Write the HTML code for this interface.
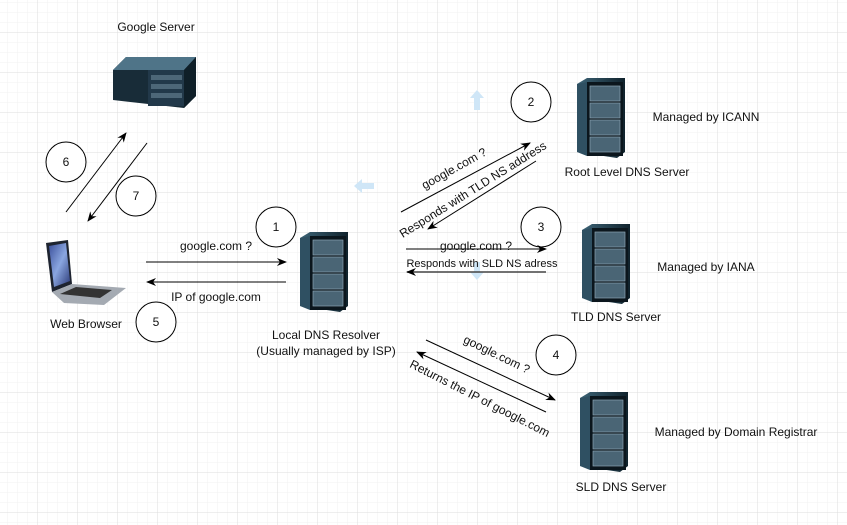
<!DOCTYPE html>
<html><head><meta charset="utf-8"><style>
html,body{margin:0;padding:0;background:#fff}
svg{display:block}
text{font-family:"Liberation Sans",Arial,sans-serif;font-size:12px;fill:#111}
</style></head><body>
<svg width="847" height="525" viewBox="0 0 847 525" xmlns="http://www.w3.org/2000/svg">
<defs>
<pattern id="minor" width="10" height="10" patternUnits="userSpaceOnUse" x="-3" y="2">
<path d="M0 0H10M0 0V10" stroke="#f2f2f2" stroke-width="1" fill="none"/>
</pattern>
<pattern id="major" width="40" height="40" patternUnits="userSpaceOnUse" x="-3" y="-8">
<path d="M0 0H40M0 0V40" stroke="#dedede" stroke-width="1" fill="none"/>
</pattern>
<marker id="ah" markerWidth="10" markerHeight="10" refX="9" refY="5" orient="auto" markerUnits="userSpaceOnUse">
<path d="M0 1L10 5L0 9L3 5Z" fill="#000"/>
</marker>
<linearGradient id="side" x1="0" x2="1"><stop offset="0" stop-color="#3d6477"/><stop offset="1" stop-color="#10222c"/></linearGradient>
<linearGradient id="scr" x1="0" x2="1" y1="0" y2="1"><stop offset="0" stop-color="#3a4f9a"/><stop offset="0.5" stop-color="#8aa6e0"/><stop offset="1" stop-color="#2b3a78"/></linearGradient>
<g id="rack">
<polygon points="0,6 10,0 48,0 48,74 40,80 0,74" fill="url(#side)"/>
<rect x="10" y="4" width="36" height="74" fill="#0b161d"/>
<g fill="#4a6575" stroke="#8aa3b2" stroke-width="0.7">
<rect x="13" y="8" width="30" height="15"/><rect x="13" y="25" width="30" height="15"/>
<rect x="13" y="42" width="30" height="15"/><rect x="13" y="59" width="30" height="15"/>
</g>
<polygon points="0,6 10,4 10,78 0,74" fill="#2f5062"/>
</g>
</defs>
<rect width="847" height="525" fill="url(#minor)"/>
<rect width="847" height="525" fill="url(#major)"/>

<g fill="#cfe6f7"><path d="M474 110V98h-4l7-8 7 8h-4v12z"/><path d="M374 183h-12v-4l-8 7 8 7v-4h12z"/><path d="M474 262v10h-4l7 8 7-8h-4v-10z"/></g>

<text x="156" y="31" text-anchor="middle">Google Server</text>
<g>
<polygon points="113,70 126,57 196,57 196,96 184,108 113,100" fill="#182c38"/>
<polygon points="113,70 126,57 196,57 184,70" fill="#4f7488"/>
<rect x="148" y="70" width="36" height="36" fill="#22394a"/>
<g fill="#4d6778"><rect x="151" y="75" width="31" height="5"/><rect x="151" y="84" width="31" height="5"/><rect x="151" y="93" width="31" height="5"/></g>
<polygon points="184,70 196,57 196,96 184,108" fill="#0f1f28"/>
</g>

<g>
<polygon points="46,243 68,240 72,284 52,292" fill="#1e2430"/>
<polygon points="49,246 66,243 70,281 54,287" fill="url(#scr)"/>
<polygon points="52,292 72,284 126,288 104,305 64,303" fill="#a4aab2"/>
<polygon points="60,294 76,287 112,290 100,298" fill="#333"/>
</g>
<text x="86" y="328" text-anchor="middle">Web Browser</text>

<line x1="66" y1="212" x2="126" y2="133" stroke="#000" marker-end="url(#ah)"/>
<line x1="147" y1="143" x2="88" y2="221" stroke="#000" marker-end="url(#ah)"/>

<g fill="#fff" stroke="#000" stroke-width="1">
<circle cx="66" cy="162" r="20"/><circle cx="136" cy="196" r="20"/><circle cx="156" cy="322" r="20"/>
<circle cx="276" cy="227" r="20"/><circle cx="531" cy="102" r="20"/><circle cx="541" cy="227" r="20"/><circle cx="556" cy="355" r="20"/>
</g>
<g text-anchor="middle">
<text x="66" y="166">6</text><text x="136" y="200">7</text><text x="156" y="326">5</text>
<text x="276" y="231">1</text><text x="531" y="106">2</text><text x="541" y="231">3</text><text x="556" y="359">4</text>
</g>

<line x1="146" y1="262" x2="286" y2="262" stroke="#000" marker-end="url(#ah)"/>
<text x="216" y="250" text-anchor="middle">google.com ?</text>
<line x1="286" y1="282" x2="147" y2="282" stroke="#000" marker-end="url(#ah)"/>
<text x="216" y="301" text-anchor="middle">IP of google.com</text>

<use href="#rack" x="300" y="232"/>
<text x="326" y="339" text-anchor="middle">Local DNS Resolver</text>
<text x="326" y="355" text-anchor="middle">(Usually managed by ISP)</text>

<use href="#rack" x="577" y="78"/>
<text x="627" y="176" text-anchor="middle">Root Level DNS Server</text>
<text x="706" y="121" text-anchor="middle">Managed by ICANN</text>
<line x1="401" y1="212" x2="530" y2="143" stroke="#000" marker-end="url(#ah)"/>
<text x="456" y="172" text-anchor="middle" transform="rotate(-29 456 172)">google.com ?</text>
<line x1="536" y1="161" x2="428" y2="229" stroke="#000" marker-end="url(#ah)"/>
<text x="475" y="193" text-anchor="middle" transform="rotate(-32 475 193)">Responds with TLD NS address</text>

<line x1="406" y1="249" x2="546" y2="249" stroke="#000" marker-end="url(#ah)"/>
<text x="476" y="250" text-anchor="middle">google.com ?</text>
<text x="482" y="267" text-anchor="middle" style="font-size:11px">Responds with SLD NS adress</text>
<line x1="546" y1="272" x2="407" y2="272" stroke="#444" stroke-width="1.5" marker-end="url(#ah)"/>
<use href="#rack" x="582" y="224"/>
<text x="616" y="321" text-anchor="middle">TLD DNS Server</text>
<text x="706" y="271" text-anchor="middle">Managed by IANA</text>

<line x1="426" y1="340" x2="555" y2="400" stroke="#000" marker-end="url(#ah)"/>
<text x="495" y="358" text-anchor="middle" transform="rotate(26 495 358)">google.com ?</text>
<line x1="546" y1="412" x2="417" y2="352" stroke="#000" marker-end="url(#ah)"/>
<text x="478" y="402" text-anchor="middle" transform="rotate(27 478 402)">Returns the IP of google.com</text>
<use href="#rack" x="580" y="392"/>
<text x="621" y="491" text-anchor="middle">SLD DNS Server</text>
<text x="736" y="436" text-anchor="middle">Managed by Domain Registrar</text>
</svg>
</body></html>
